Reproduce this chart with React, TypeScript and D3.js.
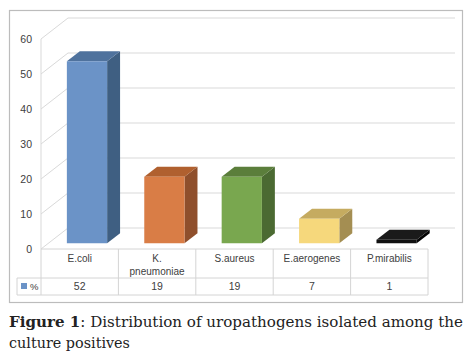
import React from "react";
import * as d3 from "d3";

const categories = ["E.coli", "K.\npneumoniae", "S.aureus", "E.aerogenes", "P.mirabilis"];
const values = [52, 19, 19, 7, 1];
const yTicks = [0, 10, 20, 30, 40, 50, 60];
const seriesName = "%";
const faceColors = ["#6b93c7", "#d97d46", "#79a74f", "#f6d87c", "#111111"];
const sideColors = ["#3f5f82", "#8f4f2c", "#4b6a32", "#a48e52", "#050505"];
const topColors = ["#4f729d", "#b0602f", "#5b7e3b", "#c5ab60", "#1a1a1a"];

const W = 474;
const H = 356;
const x0 = 41;
const x1 = 428;
const DX = 27;
const DY = -21;
const zFront = 0.27;
const zBack = 0.75;

export default function App() {
  const y = d3.scaleLinear().domain([0, 60]).range([249, 39]);
  const x = d3.scaleBand<string>().domain(categories).range([x0, x1]).paddingInner(0).paddingOuter(0);
  const step = x.step();
  const bw = step * 0.52;
  const P = (px: number, v: number, z: number): [number, number] => [px + z * DX, y(v) + z * DY];
  const pts = (arr: [number, number][]) => arr.map((p) => p.join(",")).join(" ");
  const font = "'Liberation Sans', Arial, sans-serif";
  const gridColor = "#d9d9d9";
  const tableColor = "#d4d4d4";
  const rowTop = 249;
  const rowMid = 278;
  const rowBot = 295;

  return (
    <svg width={W} height={H} style={{ position: "absolute", left: 0, top: 0 }}>
      <rect x={0} y={0} width={W} height={H} fill="#ffffff" />
      <rect x={9.5} y={10.5} width={453} height={292} fill="#ffffff" stroke="#bcbcbc" strokeWidth={1.2} />
      {/* back wall gridlines and left wall diagonals */}
      {yTicks.map((t) => {
        const [fx, fy] = P(x0, t, 0);
        const [bx, by] = P(x0, t, 1);
        const [ex, ey] = P(x1, t, 1);
        return (
          <g key={t}>
            <line x1={fx} y1={fy} x2={bx} y2={by} stroke={gridColor} strokeWidth={1} />
            <line x1={bx} y1={by} x2={ex} y2={ey} stroke={gridColor} strokeWidth={1} />
          </g>
        );
      })}
      <line x1={x0} y1={y(0)} x2={x0} y2={y(60)} stroke={gridColor} strokeWidth={1} />
      {/* y tick labels */}
      {yTicks.map((t) => (
        <text key={"l" + t} x={32} y={y(t)} dy="0.35em" textAnchor="end" fontFamily={font} fontSize={10.5} fill="#404040">
          {t}
        </text>
      ))}
      {/* bars */}
      {categories.map((c, i) => {
        const left = (x(c) as number) + (step - bw) / 2;
        const right = left + bw;
        const v = values[i];
        const fbl = P(left, 0, zFront);
        const fbr = P(right, 0, zFront);
        const ftl = P(left, v, zFront);
        const ftr = P(right, v, zFront);
        const btl = P(left, v, zBack);
        const btr = P(right, v, zBack);
        const bbr = P(right, 0, zBack);
        return (
          <g key={c}>
            <polygon points={pts([fbr, ftr, btr, bbr])} fill={sideColors[i]} />
            <polygon points={pts([ftl, ftr, btr, btl])} fill={topColors[i]} />
            <polygon points={pts([fbl, ftl, ftr, fbr])} fill={faceColors[i]} />
          </g>
        );
      })}
      {/* data table */}
      <line x1={x0} y1={rowTop} x2={x1} y2={rowTop} stroke={tableColor} />
      <line x1={17} y1={rowMid} x2={x1} y2={rowMid} stroke={tableColor} />
      <line x1={17} y1={rowBot} x2={x1} y2={rowBot} stroke={tableColor} />
      <line x1={17} y1={rowMid} x2={17} y2={rowBot} stroke={tableColor} />
      {categories.map((c, i) => (
        <line key={"v" + i} x1={x(c) as number} y1={rowTop} x2={x(c) as number} y2={rowBot} stroke={tableColor} />
      ))}
      <line x1={x1} y1={rowTop} x2={x1} y2={rowBot} stroke={tableColor} />
      {categories.map((c, i) => {
        const cx = (x(c) as number) + step / 2;
        const lines = c.split("\n");
        return (
          <g key={"t" + i}>
            {lines.map((ln, j) => (
              <text key={j} x={cx} y={262 + j * 13} textAnchor="middle" fontFamily={font} fontSize={10} fill="#404040">
                {ln}
              </text>
            ))}
            <text x={cx} y={290} textAnchor="middle" fontFamily={font} fontSize={10.5} fill="#404040">
              {values[i]}
            </text>
          </g>
        );
      })}
      <rect x={21} y={283} width={6} height={6} fill={faceColors[0]} />
      <text x={30} y={290} fontFamily={font} fontSize={9.5} fill="#404040">
        {seriesName}
      </text>
      {/* caption */}
      <text x={9} y={327} fontFamily="'DejaVu Serif', serif" fontSize={15} fill="#222" textLength={454} lengthAdjust="spacingAndGlyphs">
        <tspan fontWeight="bold">Figure 1</tspan>
        <tspan>: Distribution of uropathogens isolated among the</tspan>
      </text>
      <text x={9} y={348} fontFamily="'DejaVu Serif', serif" fontSize={15} fill="#222" textLength={121} lengthAdjust="spacingAndGlyphs">
        culture positives
      </text>
    </svg>
  );
}
